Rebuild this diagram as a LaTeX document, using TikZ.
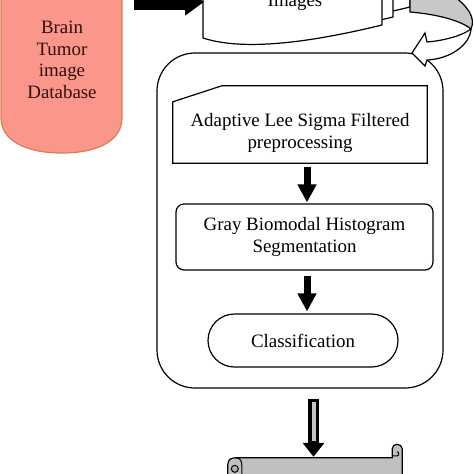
\documentclass[tikz,border=0pt]{standalone}
\usepackage{fontspec}
\setmainfont{Liberation Serif}
\usetikzlibrary{arrows.meta,positioning,shapes.misc,calc}
\definecolor{dbpink}{RGB}{250,150,138}
\definecolor{dbedge}{RGB}{214,128,78}
\definecolor{dbtext}{RGB}{50,15,15}
\definecolor{scrollgray}{RGB}{192,192,192}
\definecolor{bendgray}{RGB}{200,200,200}

\begin{document}
\begin{tikzpicture}[x=1pt, y=-1pt,
  font=\fontsize{18.9}{21.5}\selectfont,
  outline/.style={draw, line width=1.2pt},
  stage/.style={outline, align=center, inner sep=0pt},
  container/.style={outline, rounded corners=38pt, minimum width=286pt, minimum height=335pt},
  blockarrow/.style={line width=16pt, -{Triangle[width=26pt, length=19pt]}},
  downarrow/.style={line width=7pt, -{Triangle[width=18pt, length=18pt]}},
  outarrow/.style={line width=11pt, -{Triangle[width=21pt, length=14pt]}}
]
  \useasboundingbox (0,0) rectangle (474,474);
  \clip (0,0) rectangle (474,474);

  \draw[fill=dbpink, draw=dbedge, line width=1.2pt] (1,-10) -- (1,118)
    .. controls (1,140) and (25,153) .. (62,153)
    .. controls (99,153) and (122,140) .. (122,118) -- (122,-10);
  \node[text=dbtext, align=center] (db) at (62,60) {Brain\\Tumor\\image\\Database};

  \foreach \dx/\dy in {28/-18, 11/-8, 0/0}
    \draw[outline, fill=white, shift={(\dx,\dy)}] (203,-30) -- (203,38)
      .. controls (240,50) and (300,45) .. (382,25) -- (382,-30);
  \node[anchor=base] (img) at (295,6) {Images};

  \coordinate (dbout) at (134,2);
  \coordinate (imgin) at (204,2);
  \draw[blockarrow] (dbout) -- (imgin);

  \node[container] (box) at (300,220.5) {};

  \draw[line width=1.2pt, fill=bendgray] (410,-5) -- (410,12)
    .. controls (435,14) and (460,20) .. (471,29)
    .. controls (476,18) and (468,6) .. (452,-5) -- cycle;
  \draw[line width=1.2pt, fill=white] (471,29)
    .. controls (460,37) and (440,41) .. (427,42) -- (425,33) -- (412,53)
    -- (425,66) -- (427,60)
    .. controls (450,59) and (470,45) .. (471,29);

  \node[minimum width=254pt, minimum height=77pt] (pre) at (300,124.5) {};
  \draw[outline] (pre.south west) -- (pre.south east) -- (pre.north east)
    -- ([xshift=49pt]pre.north west) -- ([yshift=-16pt]pre.north west) -- cycle;
  \node[align=center] (pretext) at ([yshift=-8.5pt]pre.center) {Adaptive Lee Sigma Filtered\\preprocessing};

  \node[stage, rounded corners=8pt, minimum width=257pt, minimum height=66pt] (seg) at (304.5,237)
    {Gray Biomodal Histogram\\Segmentation};
  \node[stage, rounded rectangle, minimum width=190pt, minimum height=53pt] (cls) at (303,340.5)
    {Classification};

  \draw[downarrow, shorten <=4pt, shorten >=1pt] ([xshift=7pt]pre.south) -- ([xshift=7pt]pre.south |- seg.north);
  \draw[downarrow, shorten <=5pt, shorten >=2pt] ([xshift=2.5pt]seg.south) -- ([xshift=2.5pt]seg.south |- cls.north);

  \node[minimum width=174pt, minimum height=40pt] (scroll) at (315,478) {};
  \draw[outline, fill=scrollgray] (scroll.south west) -- ([yshift=-7pt]scroll.north west)
    .. controls ([yshift=-2pt]scroll.north west) and ([xshift=3pt]scroll.north west) .. ([xshift=8pt]scroll.north west)
    -- ([xshift=-10pt]scroll.north east) -- ([xshift=-10pt, yshift=9pt]scroll.north east)
    .. controls ([xshift=-10pt, yshift=15pt]scroll.north east) and ([yshift=15pt]scroll.north east) .. ([yshift=9pt]scroll.north east)
    -- (scroll.south east);
  \draw[line width=1pt] ([xshift=-10pt, yshift=2pt]scroll.north east) -- ([xshift=-5pt, yshift=2pt]scroll.north east)
    .. controls ([xshift=-3pt, yshift=2pt]scroll.north east) and ([xshift=-3pt, yshift=6pt]scroll.north east) .. ([xshift=-5pt, yshift=6pt]scroll.north east);
  \draw[line width=1pt] ([xshift=8pt]scroll.north west) .. controls ([xshift=13pt]scroll.north west) and ([xshift=14pt, yshift=-4pt]scroll.north west) .. ([xshift=14pt, yshift=-8pt]scroll.north west)
    -- ([xshift=14pt]scroll.south west);
  \draw[line width=1pt, fill=gray!60] ([xshift=7pt, yshift=-11pt]scroll.north west) circle (3.5);

  \draw[outarrow, shorten <=10pt, shorten >=1pt] ([xshift=13.5pt]box.south) -- ([xshift=13.5pt]box.south |- scroll.north);
  \draw[line width=4pt, gray!45, shorten <=13pt, shorten >=17pt] ([xshift=13.5pt]box.south) -- ([xshift=13.5pt]box.south |- scroll.north);
\end{tikzpicture}
\end{document}
